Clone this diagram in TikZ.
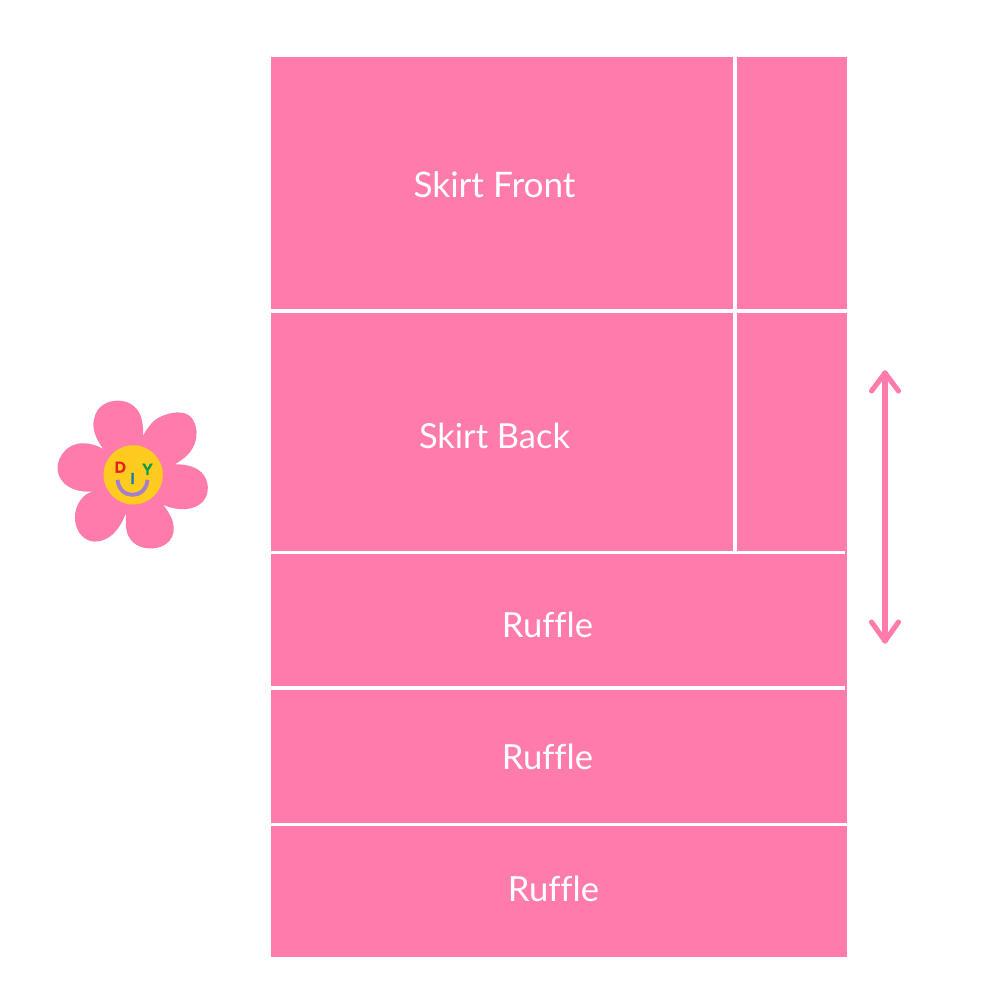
\documentclass[tikz,border=0pt]{standalone}
\usepackage{fontspec}
\setmainfont[Ligatures=CommonOff]{Lato}
\newfontfamily\diyfont[FakeBold=3]{Lato}
\definecolor{pinkfill}{HTML}{FF7BAC}
\definecolor{sunny}{HTML}{FFCB1F}
\definecolor{smile}{HTML}{A47FCB}
\definecolor{dred}{HTML}{ED1C24}
\definecolor{iblue}{HTML}{0A7DB8}
\definecolor{ygreen}{HTML}{0A9A4F}
\tikzset{
  panel/.style={fill=pinkfill,draw=none},
  seam/.style={draw=white,line width=1.05pt},
  lbl/.style={text=white,font=\fontsize{9.85}{12}\selectfont,inner sep=0pt},
  dbl/.style={draw=pinkfill,line width=1.45pt,line cap=round,line join=round},
  letter/.style={font=\diyfont\bfseries\fontsize{4.2}{5}\selectfont,inner sep=0pt}
}
\begin{document}
\begin{tikzpicture}[x=0.01cm,y=-0.01cm]
\useasboundingbox (0,0) rectangle (1000,1000);
\fill[panel] (271,57) rectangle (847,957);
\draw[seam] (735,57) -- (735,552);
\draw[seam] (271,311) -- (847,311);
\draw[seam] (271,552.5) -- (845,552.5);
\draw[seam] (271,688) -- (845,688);
\draw[seam] (271,824.5) -- (847,824.5);
\node[lbl,font=\fontsize{10.0}{12}\selectfont] (front) at (494.5,185) {Skirt Front};
\node[lbl,font=\fontsize{9.8}{12}\selectfont] (back) at (494.5,436) {Skirt Back};
\node[lbl] (r1) at (547.5,625) {Ruffle};
\node[lbl] (r2) at (547.5,757) {Ruffle};
\node[lbl] (r3) at (553.5,888.5) {Ruffle};
% double arrow
\coordinate (atop) at (885,373);
\coordinate (abot) at (885,641);
\draw[dbl] (atop) -- (abot);
\draw[dbl] (871.5,391) -- (atop) -- (898.5,391);
\draw[dbl] (871.5,622) -- (abot) -- (898.5,622);
% flower
\begin{scope}[shift={(40,385)},x=0.003333cm,y=-0.003333cm]
\fill[pinkfill] (190,192)
 .. controls (165,160) and (155,125) .. (163,100)
 .. controls (172,60) and (205,47) .. (235,47)
 .. controls (272,47) and (300,72) .. (306,105)
 .. controls (310,125) and (310,140) .. (310,152)
 .. controls (325,125) and (342,100) .. (375,90)
 .. controls (408,78) and (445,78) .. (460,105)
 .. controls (478,135) and (472,178) .. (448,205)
 .. controls (432,222) and (420,230) .. (405,238)
 .. controls (440,238) and (472,245) .. (492,270)
 .. controls (512,300) and (507,338) .. (482,357)
 .. controls (450,382) and (400,374) .. (370,360)
 .. controls (390,385) and (408,415) .. (400,447)
 .. controls (390,482) and (355,493) .. (325,491)
 .. controls (290,488) and (263,467) .. (259,430)
 .. controls (257,410) and (258,395) .. (258,385)
 .. controls (245,420) and (222,462) .. (175,470)
 .. controls (135,476) and (106,442) .. (105,400)
 .. controls (104,360) and (130,325) .. (160,320)
 .. controls (120,324) and (72,312) .. (56,270)
 .. controls (42,230) and (73,178) .. (125,175)
 .. controls (150,174) and (175,183) .. (190,192) -- cycle;
\fill[sunny] (280,270) circle[radius=89];
\draw[smile,line width=1.1pt] (233,285) .. controls (238,345) and (318,345) .. (323,285);
\node[letter,text=dred] (d) at (241,247) {D};
\node[letter,text=iblue] (i) at (278,281) {I};
\node[letter,text=ygreen] (yy) at (323,253) {Y};
\end{scope}
\end{tikzpicture}
\end{document}
